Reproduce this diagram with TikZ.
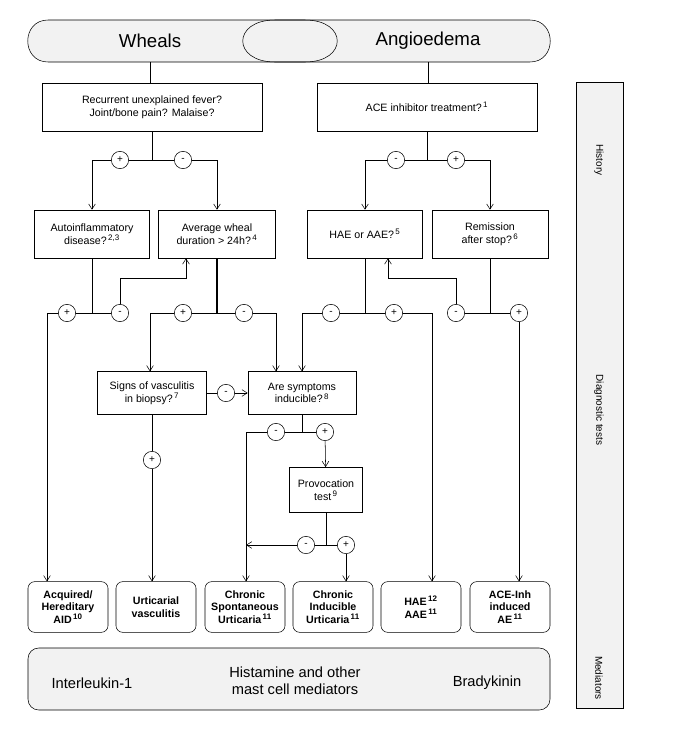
\documentclass[tikz,border=0pt]{standalone}
\usepackage{fontspec}
\setmainfont{Liberation Sans}
\usetikzlibrary{arrows.meta}
\newcommand{\fn}[1]{\textsuperscript{\,#1}}
\begin{document}
\begin{tikzpicture}
        [x=0.75pt,y=-0.75pt,>={Straight Barb[length=4pt,width=5pt]},
         q/.style={draw, fill=white, inner sep=1pt, align=center, font=\fontsize{8}{9.5}\selectfont},
         dx/.style={draw, fill=white, rounded corners=5pt, inner sep=0pt, align=center,
           minimum width=60pt, minimum height=38pt, font=\bfseries\fontsize{8}{9.5}\selectfont},
         pm/.style={circle, draw, fill=white, inner sep=0pt, minimum size=13pt, font=\fontsize{7.5}{7.5}\selectfont},
         side/.style={rotate=-90, font=\fontsize{7.5}{7.5}\selectfont}]
        \useasboundingbox (0,0) rectangle (680,740);
        %-----top
        \path[fill=gray!10] (48,20) -- (305,20) .. controls (348,20) and (348,62) .. (305,62) -- (48,62) .. controls (21,62) and (21,20) .. (48,20) -- cycle;
        \path[fill=gray!10] (275,20) -- (530,20) .. controls (557,20) and (557,62) .. (530,62) -- (275,62) .. controls (232,62) and (232,20) .. (275,20) -- cycle;
        \draw (48,20) -- (305,20) .. controls (348,20) and (348,62) .. (305,62) -- (48,62) .. controls (21,62) and (21,20) .. (48,20) -- cycle;
        \draw (275,20) -- (530,20) .. controls (557,20) and (557,62) .. (530,62) -- (275,62) .. controls (232,62) and (232,20) .. (275,20) -- cycle;
        \node[font=\fontsize{14}{14}\selectfont] (wheals) at (150,41) {Wheals};
        \node[font=\fontsize{14}{14}\selectfont] (angio) at (428,41) {Angioedema};
        \coordinate (wb) at (150,62);
        \coordinate (ab) at (428,62);

        %-----side bar and mediators
        \draw[fill=gray!10] (576,82) rectangle (623,708);
        \node[side] (hist) at (599,160) {History};
        \node[side] (diag) at (599,410) {Diagnostic tests};
        \node[side] (medi) at (599,678) {Mediators};
        \draw[fill=gray!10, rounded corners=8pt] (28,648) rectangle (550,710);
        \node[font=\fontsize{11}{12.5}\selectfont] (il) at (92,683) {Interleukin-1};
        \node[font=\fontsize{11}{12.5}\selectfont, align=center] (hist) at (295,681) {Histamine and other\\mast cell mediators};
        \node[font=\fontsize{11}{12.5}\selectfont] (brady) at (487,683) {Bradykinin};

        %-----question boxes
        \node[q, minimum width=165pt, minimum height=36pt] (qfev) at (152,107) {Recurrent unexplained fever?\\Joint/bone pain? Malaise?};
        \node[q, minimum width=165pt, minimum height=36pt] (qace) at (427,107) {ACE inhibitor treatment?\fn{1}};
        \node[q, minimum width=86pt, minimum height=36pt] (qauto) at (92,234) {Autoinflammatory\\disease?\fn{2,3}};
        \node[q, minimum width=88pt, minimum height=36pt] (qavg) at (217,234) {Average wheal\\duration > 24h?\fn{4}};
        \node[q, minimum width=86pt, minimum height=36pt] (qhae) at (365,234) {HAE or AAE?\fn{5}};
        \node[q, minimum width=87pt, minimum height=36pt] (qrem) at (490,234) {Remission\\after stop?\fn{6}};
        \node[q, minimum width=82pt, minimum height=32pt] (qvasc) at (152,393) {Signs of vasculitis\\in biopsy?\fn{7}};
        \node[q, minimum width=81pt, minimum height=32pt] (qind) at (302,393) {Are symptoms\\inducible?\fn{8}};
        \node[q, minimum width=55pt, minimum height=34pt] (qprov) at (326,490) {Provocation\\test\fn{9}};

        %-----diagnoses
        \node[dx] (dAID) at (68,607) {Acquired/\\Hereditary\\AID\fn{10}};
        \node[dx] (dUV) at (156,607) {Urticarial\\vasculitis};
        \node[dx] (dCSU) at (245,607) {Chronic\\Spontaneous\\Urticaria\fn{11}};
        \node[dx] (dCIU) at (333,607) {Chronic\\Inducible\\Urticaria\fn{11}};
        \node[dx] (dHAE) at (421,607) {HAE\fn{12}\\AAE\fn{11}};
        \node[dx] (dACE) at (510,607) {ACE-Inh\\induced\\AE\fn{11}};

        %-----plus/minus
        \node[pm] (fevp) at (120,160) {+};
        \node[pm] (fevm) at (183,160) {-};
        \node[pm] (acem) at (396,160) {-};
        \node[pm] (acep) at (456,160) {+};
        \node[pm] (autop) at (67,313) {+};
        \node[pm] (autom) at (120,313) {-};
        \node[pm] (avgp) at (183,313) {+};
        \node[pm] (avgm) at (244,313) {-};
        \node[pm] (haem) at (331,313) {-};
        \node[pm] (haep) at (394,313) {+};
        \node[pm] (remm) at (456,313) {-};
        \node[pm] (remp) at (519,313) {+};
        \node[pm] (vascm) at (226,393) {-};
        \node[pm] (vascp) at (152,460) {+};
        \node[pm] (indm) at (276,432) {-};
        \node[pm] (indp) at (325,432) {+};
        \node[pm] (provm) at (306,545) {-};
        \node[pm] (provp) at (346,545) {+};

        %-----junctions
        \coordinate (jfev) at (152,160);
        \coordinate (jace) at (427,160);
        \coordinate (jauto) at (92,313);
        \coordinate (javg) at (217,313);
        \coordinate (jhae) at (365,313);
        \coordinate (jrem) at (490,313);
        \coordinate (jind) at (302,432);
        \coordinate (jprov) at (326,545);
        \coordinate (cAID) at (47,313);
        \coordinate (cUV) at (150,313);
        \coordinate (cCSU) at (246,432);
        \coordinate (cIND) at (276,313);
        \coordinate (cHAE) at (432,313);
        \coordinate (cIN) at (302,313);
        \coordinate (cback) at (186,278);
        \coordinate (chback) at (388,278);

        \draw (wb) -- (wb |- qfev.north);
        \draw (ab) -- (ab |- qace.north);
        \draw (qfev) -- (jfev);
        \draw (qace) -- (jace);
        \draw (qauto) -- (jauto);
        \draw[line width=1pt] (qavg) -- (javg);
        \draw (qhae) -- (jhae);
        \draw (qrem) -- (jrem);
        \draw (qind) -- (jind);
        \draw (qprov) -- (jprov);

        \foreach \a/\b in {fevp/jfev, jfev/fevm, acem/jace, jace/acep, autop/jauto, jauto/autom,
          avgp/javg, javg/avgm, haem/jhae, jhae/haep, remm/jrem, jrem/remp, indm/jind, jind/indp,
          provm/jprov, jprov/provp, qvasc/vascm}
          \draw (\a) -- (\b);

        \draw[->] (fevp) -| (qauto);
        \draw[->] (fevm) -| (qavg);
        \draw[->] (acem) -| (qhae);
        \draw[->] (acep) -| (qrem);
        \draw[->] (autop) -- (cAID) -- (cAID |- dAID.north);
        \draw[->] (autom) |- (cback) -- (cback |- qavg.south);
        \draw[->] (avgp) -- (cUV) -- (cUV |- qvasc.north);
        \draw[->] (avgm) -- (cIND) -- (cIND |- qind.north);
        \draw[->] (haem) -- (cIN) -- (cIN |- qind.north);
        \draw[->] (haep) -- (cHAE) -- (cHAE |- dHAE.north);
        \draw[->] (remm) |- (chback) -- (chback |- qhae.south);
        \draw[->] (remp) -- (remp |- dACE.north);
        \draw[->] (vascm) -- (qind);
        \draw (qvasc) -- (vascp);
        \draw[->] (vascp) -- (vascp |- dUV.north);
        \draw[->] (indm) -- (cCSU) -- (cCSU |- dCSU.north);
        \draw[->] (indp) -- (qprov);
        \draw[->] (provm) -- (cCSU |- provm);
        \draw[->] (provp) -- (provp |- dCIU.north);
\end{tikzpicture}
\end{document}
